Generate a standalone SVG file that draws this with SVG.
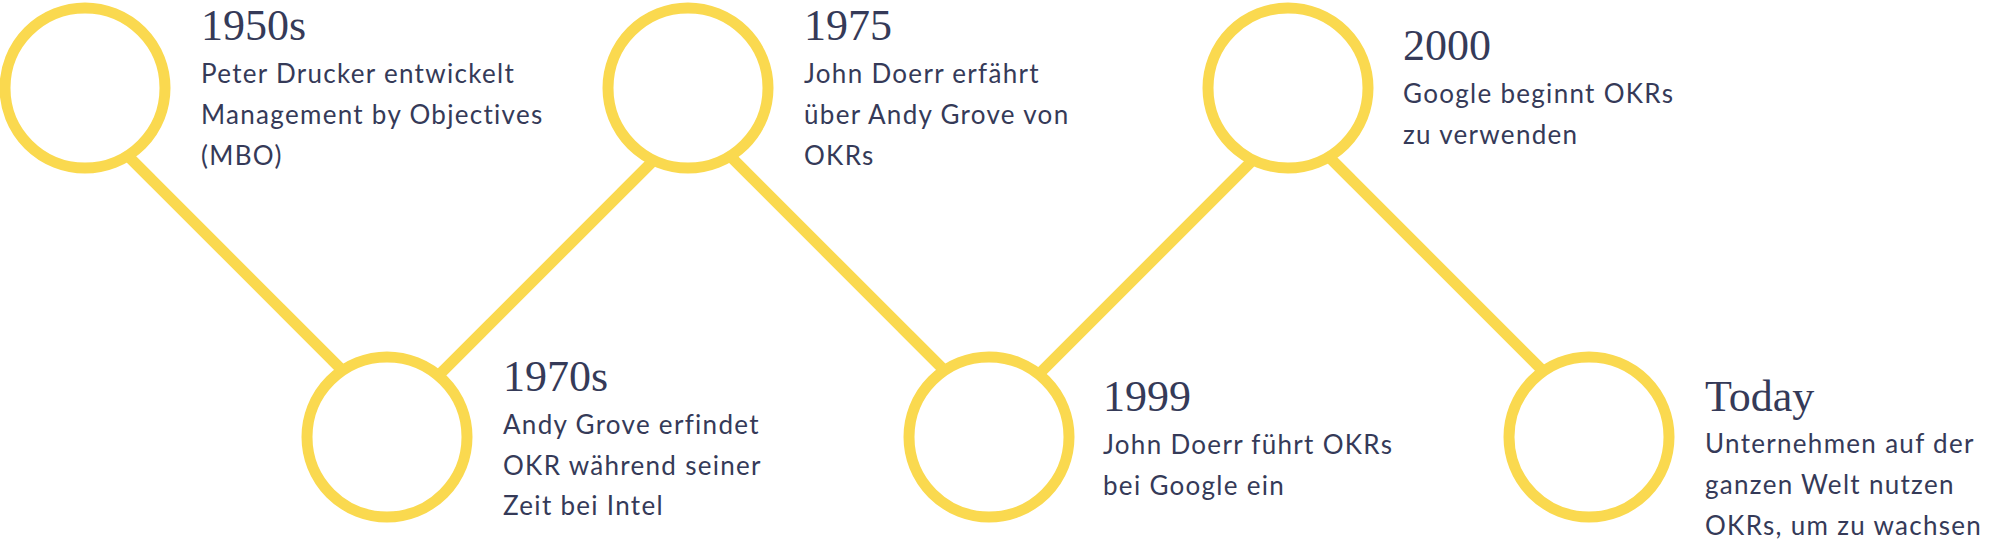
<svg xmlns="http://www.w3.org/2000/svg" width="2000" height="545" viewBox="0 0 2000 545">
  <style>
    .ring { fill: #ffffff; stroke: #FAD94F; stroke-width: 11; }
    .link { stroke: #FAD94F; stroke-width: 11; fill: none; }
    .head { font-family: "Liberation Serif", "DejaVu Serif", serif; font-size: 44px; fill: #353A58; }
    .body { font-family: Lato, "Noto Sans", sans-serif; font-size: 26px; letter-spacing: 1.3px; fill: #353A58; }
  </style>
  <rect width="2000" height="545" fill="#ffffff"/>
  <g id="connectors">
    <line class="link" x1="100" y1="128" x2="370" y2="398"/>
    <line class="link" x1="410" y1="404" x2="670" y2="144"/>
    <line class="link" x1="700" y1="126" x2="960" y2="386"/>
    <line class="link" x1="1010" y1="403" x2="1270" y2="143"/>
    <line class="link" x1="1300" y1="128" x2="1560" y2="388"/>
  </g>
  <g id="node-1950s">
    <circle class="ring" cx="85" cy="88" r="80"/>
    <text class="head" x="201" y="40">1950s</text>
    <text class="body" x="201" y="83">Peter Drucker entwickelt</text>
    <text class="body" x="201" y="124">Management by Objectives</text>
    <text class="body" x="201" y="165">(MBO)</text>
  </g>
  <g id="node-1970s">
    <circle class="ring" cx="387" cy="437" r="80"/>
    <text class="head" x="503" y="391">1970s</text>
    <text class="body" x="503" y="434">Andy Grove erfindet</text>
    <text class="body" x="503" y="474.5">OKR während seiner</text>
    <text class="body" x="503" y="515">Zeit bei Intel</text>
  </g>
  <g id="node-1975">
    <circle class="ring" cx="688" cy="88" r="80"/>
    <text class="head" x="804" y="40">1975</text>
    <text class="body" x="804" y="83">John Doerr erfährt</text>
    <text class="body" x="804" y="124">über Andy Grove von</text>
    <text class="body" x="804" y="165">OKRs</text>
  </g>
  <g id="node-1999">
    <circle class="ring" cx="989" cy="437" r="80"/>
    <text class="head" x="1103" y="411">1999</text>
    <text class="body" x="1103" y="454">John Doerr führt OKRs</text>
    <text class="body" x="1103" y="495">bei Google ein</text>
  </g>
  <g id="node-2000">
    <circle class="ring" cx="1288" cy="88" r="80"/>
    <text class="head" x="1403" y="60">2000</text>
    <text class="body" x="1403" y="102.5">Google beginnt OKRs</text>
    <text class="body" x="1403" y="144">zu verwenden</text>
  </g>
  <g id="node-today">
    <circle class="ring" cx="1589" cy="437" r="80"/>
    <text class="head" x="1705" y="411">Today</text>
    <text class="body" x="1705" y="453">Unternehmen auf der</text>
    <text class="body" x="1705" y="494">ganzen Welt nutzen</text>
    <text class="body" x="1705" y="535">OKRs, um zu wachsen</text>
  </g>
</svg>
